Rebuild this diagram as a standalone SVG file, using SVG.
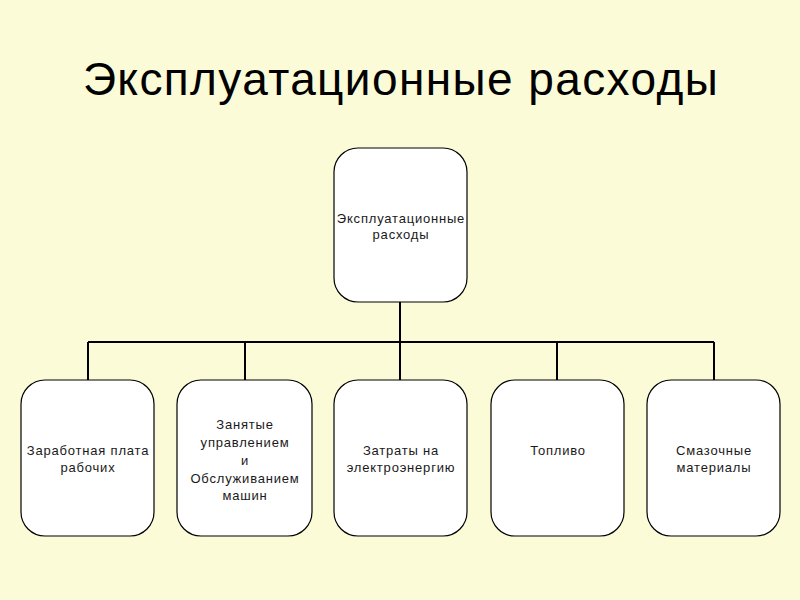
<svg xmlns="http://www.w3.org/2000/svg" width="800" height="600" viewBox="0 0 800 600">
<style>
.box{fill:#ffffff;stroke:#000000;stroke-width:1.2}
.lbl{font-family:"Liberation Sans",Arial,sans-serif;font-size:13px;letter-spacing:0.8px;fill:#1a1a1a;text-anchor:middle}
.title{font-family:"Liberation Sans",Arial,sans-serif;font-size:46px;letter-spacing:1.4px;fill:#000000;text-anchor:middle}
.conn{fill:none;stroke:#000000;stroke-width:2}
</style>
<rect x="0" y="0" width="800" height="600" fill="#fbfbd8"/>
<text class="title" x="401" y="95">Эксплуатационные расходы</text>
<g id="connectors">
<path class="conn" d="M400 302 V342 M88 342 H714 M88 342 V380 M245 342 V380 M400 342 V380 M557 342 V380 M714 342 V380"/>
</g>
<g id="root">
<rect class="box" x="334" y="148" width="133" height="154" rx="24"/>
<text class="lbl" x="401" y="223">Эксплуатационные</text>
<text class="lbl" x="401" y="239">расходы</text>
</g>
<g id="n1">
<rect class="box" x="21" y="380" width="133" height="156" rx="24"/>
<text class="lbl" x="88" y="455">Заработная плата</text>
<text class="lbl" x="88" y="472">рабочих</text>
</g>
<g id="n2">
<rect class="box" x="177" y="380" width="135" height="156" rx="24"/>
<text class="lbl" x="245" y="429">Занятые</text>
<text class="lbl" x="245" y="447">управлением</text>
<text class="lbl" x="245" y="465">и</text>
<text class="lbl" x="245" y="483">Обслуживанием</text>
<text class="lbl" x="245" y="500">машин</text>
</g>
<g id="n3">
<rect class="box" x="334" y="380" width="133" height="156" rx="24"/>
<text class="lbl" x="401" y="455">Затраты на</text>
<text class="lbl" x="401" y="472">электроэнергию</text>
</g>
<g id="n4">
<rect class="box" x="491" y="380" width="133" height="156" rx="24"/>
<text class="lbl" x="558" y="455">Топливо</text>
</g>
<g id="n5">
<rect class="box" x="647" y="380" width="133" height="156" rx="24"/>
<text class="lbl" x="714" y="455">Смазочные</text>
<text class="lbl" x="714" y="472">материалы</text>
</g>
</svg>
